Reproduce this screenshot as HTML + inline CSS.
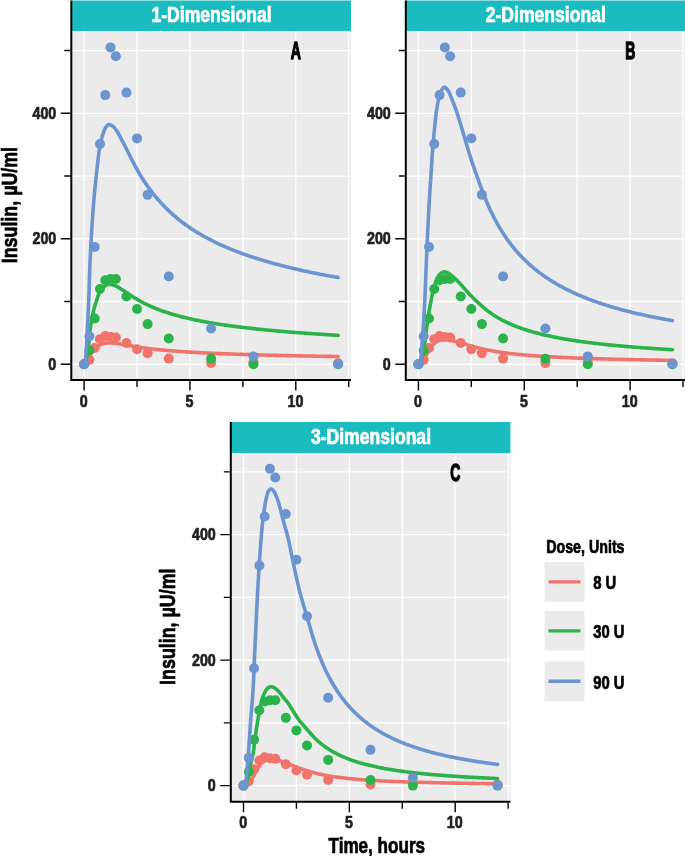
<!DOCTYPE html>
<html><head><meta charset="utf-8"><title>Insulin diffusion models</title>
<style>html,body{margin:0;padding:0;background:#fff}svg{display:block}</style></head>
<body>
<svg width="685" height="856" viewBox="0 0 685 856">
<rect width="685" height="856" fill="#fff"/>
<rect x="71.3" y="31.0" width="279.7" height="349.1" fill="#EBEBEB"/>
<path d="M84.10,31.0V380.1M137.03,31.0V380.1M189.95,31.0V380.1M242.88,31.0V380.1M295.80,31.0V380.1M348.73,31.0V380.1M71.3,364.25H351.0M71.3,301.51H351.0M71.3,238.77H351.0M71.3,176.03H351.0M71.3,113.29H351.0M71.3,50.55H351.0" stroke="#fff" stroke-width="1.3" fill="none"/>
<rect x="71.3" y="0.5" width="279.7" height="30.5" fill="#1BBCBF"/>
<text transform="translate(211.50,22.30) scale(0.826,1)" text-anchor="middle" font-size="21.3" fill="#fff" stroke="#fff" stroke-width="0.7" stroke-linejoin="round" font-family="'Liberation Sans', sans-serif" font-weight="bold">1-Dimensional</text>
<path d="M84.10,364.25 L84.52,364.22 L84.95,364.14 L85.37,363.98 L85.79,363.56 L86.22,363.02 L86.64,362.35 L87.06,361.57 L87.49,360.86 L87.91,360.17 L88.33,359.43 L88.76,358.58 L89.18,357.45 L89.60,356.15 L90.03,355.19 L90.45,354.39 L90.87,353.64 L91.30,352.96 L91.72,352.32 L92.14,351.72 L92.57,351.15 L92.99,350.63 L93.41,350.13 L93.84,349.67 L94.26,349.24 L94.69,348.84 L95.11,348.47 L95.53,348.11 L95.96,347.77 L96.38,347.41 L96.80,347.05 L97.23,346.69 L97.65,346.36 L98.07,346.04 L98.50,345.73 L98.92,345.43 L99.34,345.16 L99.77,344.93 L100.19,344.74 L100.61,344.57 L101.04,344.40 L101.46,344.25 L101.88,344.10 L102.31,343.96 L102.73,343.84 L103.15,343.73 L103.58,343.62 L104.00,343.52 L104.42,343.42 L104.85,343.34 L105.27,343.27 L105.69,343.21 L106.12,343.16 L106.54,343.11 L106.96,343.06 L107.39,343.02 L107.81,342.99 L108.23,342.96 L108.66,342.95 L109.08,342.95 L109.50,342.95 L109.93,342.96 L110.35,342.97 L110.77,342.99 L111.20,343.01 L111.62,343.03 L112.04,343.05 L112.47,343.08 L112.89,343.10 L113.31,343.13 L113.74,343.16 L114.16,343.20 L114.58,343.24 L115.01,343.28 L115.43,343.33 L115.85,343.39 L116.28,343.44 L116.70,343.50 L117.13,343.56 L117.55,343.62 L117.97,343.68 L118.40,343.74 L118.82,343.81 L119.24,343.88 L119.67,343.95 L120.09,344.03 L120.51,344.10 L120.94,344.18 L121.36,344.25 L121.78,344.32 L122.21,344.39 L122.63,344.46 L123.05,344.53 L123.48,344.60 L123.90,344.68 L124.32,344.75 L124.75,344.82 L125.17,344.89 L125.59,344.96 L126.02,345.04 L126.44,345.11 L126.86,345.18 L127.29,345.25 L127.71,345.33 L128.13,345.40 L128.56,345.48 L128.98,345.56 L129.40,345.63 L129.83,345.71 L130.25,345.79 L130.67,345.86 L131.10,345.94 L131.52,346.01 L131.94,346.09 L132.37,346.16 L132.79,346.23 L133.21,346.31 L133.64,346.38 L134.06,346.45 L134.48,346.52 L134.91,346.59 L135.33,346.66 L135.75,346.73 L136.18,346.80 L136.60,346.87 L137.03,346.93 L137.45,347.00 L137.87,347.07 L138.30,347.13 L138.72,347.20 L139.14,347.26 L139.57,347.33 L139.99,347.39 L140.41,347.46 L140.84,347.52 L141.26,347.58 L141.68,347.64 L142.11,347.70 L142.53,347.76 L142.95,347.82 L143.38,347.88 L143.80,347.94 L144.22,347.99 L144.65,348.05 L145.07,348.10 L145.49,348.16 L145.92,348.21 L146.34,348.27 L146.76,348.32 L147.19,348.38 L147.61,348.43 L148.67,348.56 L149.73,348.69 L150.79,348.81 L151.84,348.94 L152.90,349.06 L153.96,349.18 L155.02,349.29 L156.08,349.41 L157.14,349.52 L158.19,349.63 L159.25,349.73 L160.31,349.84 L161.37,349.94 L162.43,350.04 L163.49,350.14 L164.55,350.24 L165.60,350.33 L166.66,350.42 L167.72,350.52 L168.78,350.61 L169.84,350.69 L170.90,350.78 L171.96,350.87 L173.01,350.95 L174.07,351.03 L175.13,351.12 L176.19,351.20 L177.25,351.27 L178.31,351.35 L179.37,351.43 L180.42,351.50 L181.48,351.57 L182.54,351.65 L183.60,351.72 L184.66,351.79 L185.72,351.85 L186.77,351.92 L187.83,351.99 L188.89,352.05 L189.95,352.12 L191.01,352.18 L192.07,352.24 L193.13,352.30 L194.18,352.36 L195.24,352.42 L196.30,352.48 L197.36,352.54 L198.42,352.60 L199.48,352.65 L200.53,352.71 L201.59,352.76 L202.65,352.82 L203.71,352.87 L204.77,352.92 L205.83,352.97 L206.89,353.02 L207.94,353.07 L209.00,353.12 L210.06,353.17 L211.12,353.22 L212.18,353.27 L213.24,353.32 L214.30,353.36 L215.35,353.41 L216.41,353.45 L217.47,353.50 L218.53,353.54 L219.59,353.59 L220.65,353.63 L221.71,353.67 L222.76,353.71 L223.82,353.76 L224.88,353.80 L225.94,353.84 L227.00,353.88 L228.06,353.92 L229.11,353.96 L230.17,353.99 L231.23,354.03 L232.29,354.07 L233.35,354.11 L234.41,354.15 L235.47,354.18 L236.52,354.22 L237.58,354.25 L238.64,354.29 L239.70,354.33 L240.76,354.36 L241.82,354.40 L242.88,354.43 L243.93,354.46 L244.99,354.50 L246.05,354.53 L247.11,354.56 L248.17,354.59 L249.23,354.63 L250.28,354.66 L251.34,354.69 L252.40,354.72 L253.46,354.75 L254.52,354.78 L255.58,354.81 L256.64,354.84 L257.69,354.87 L258.75,354.90 L259.81,354.93 L260.87,354.96 L261.93,354.99 L262.99,355.02 L264.05,355.05 L265.10,355.07 L266.16,355.10 L267.22,355.13 L268.28,355.16 L269.34,355.18 L270.40,355.21 L271.45,355.23 L272.51,355.26 L273.57,355.29 L274.63,355.31 L275.69,355.34 L276.75,355.36 L277.81,355.39 L278.86,355.41 L279.92,355.44 L280.98,355.46 L282.04,355.49 L283.10,355.51 L284.16,355.53 L285.22,355.56 L286.27,355.58 L287.33,355.61 L288.39,355.63 L289.45,355.65 L290.51,355.67 L291.57,355.70 L292.62,355.72 L293.68,355.74 L294.74,355.76 L295.80,355.78 L296.86,355.81 L297.92,355.83 L298.98,355.85 L300.03,355.87 L301.09,355.89 L302.15,355.91 L303.21,355.93 L304.27,355.95 L305.33,355.97 L306.38,355.99 L307.44,356.01 L308.50,356.03 L309.56,356.05 L310.62,356.07 L311.68,356.09 L312.74,356.11 L313.79,356.13 L314.85,356.15 L315.91,356.17 L316.97,356.19 L318.03,356.21 L319.09,356.23 L320.15,356.24 L321.20,356.26 L322.26,356.28 L323.32,356.30 L324.38,356.32 L325.44,356.34 L326.50,356.35 L327.56,356.37 L328.61,356.39 L329.67,356.41 L330.73,356.42 L331.79,356.44 L332.85,356.46 L333.91,356.47 L334.96,356.49 L336.02,356.51 L337.08,356.52 L338.14,356.54" stroke="#F0746C" stroke-width="3.6" fill="none" stroke-linejoin="round" stroke-linecap="round"/>
<circle cx="84.10" cy="364.25" r="5.0" fill="#F0746C"/>
<circle cx="89.39" cy="359.86" r="5.0" fill="#F0746C"/>
<circle cx="94.69" cy="347.94" r="5.0" fill="#F0746C"/>
<circle cx="99.98" cy="339.15" r="5.0" fill="#F0746C"/>
<circle cx="105.27" cy="336.02" r="5.0" fill="#F0746C"/>
<circle cx="110.56" cy="336.90" r="5.0" fill="#F0746C"/>
<circle cx="115.85" cy="337.52" r="5.0" fill="#F0746C"/>
<circle cx="126.44" cy="342.92" r="5.0" fill="#F0746C"/>
<circle cx="137.03" cy="349.19" r="5.0" fill="#F0746C"/>
<circle cx="147.61" cy="353.27" r="5.0" fill="#F0746C"/>
<circle cx="168.78" cy="358.60" r="5.0" fill="#F0746C"/>
<circle cx="211.12" cy="363.12" r="5.0" fill="#F0746C"/>
<circle cx="253.46" cy="362.37" r="5.0" fill="#F0746C"/>
<circle cx="338.14" cy="363.31" r="5.0" fill="#F0746C"/>
<path d="M84.10,364.25 L84.52,364.13 L84.95,363.83 L85.37,363.23 L85.79,361.67 L86.22,359.65 L86.64,357.12 L87.06,354.21 L87.49,351.55 L87.91,348.96 L88.33,346.18 L88.76,343.00 L89.18,338.75 L89.60,333.89 L90.03,330.28 L90.45,327.26 L90.87,324.47 L91.30,321.90 L91.72,319.51 L92.14,317.26 L92.57,315.13 L92.99,313.16 L93.41,311.32 L93.84,309.58 L94.26,307.96 L94.69,306.46 L95.11,305.07 L95.53,303.74 L95.96,302.44 L96.38,301.11 L96.80,299.75 L97.23,298.42 L97.65,297.15 L98.07,295.96 L98.50,294.78 L98.92,293.67 L99.34,292.67 L99.77,291.82 L100.19,291.09 L100.61,290.44 L101.04,289.83 L101.46,289.24 L101.88,288.68 L102.31,288.16 L102.73,287.71 L103.15,287.29 L103.58,286.88 L104.00,286.50 L104.42,286.15 L104.85,285.84 L105.27,285.57 L105.69,285.36 L106.12,285.16 L106.54,284.97 L106.96,284.80 L107.39,284.64 L107.81,284.51 L108.23,284.42 L108.66,284.37 L109.08,284.36 L109.50,284.38 L109.93,284.42 L110.35,284.46 L110.77,284.52 L111.20,284.60 L111.62,284.67 L112.04,284.76 L112.47,284.85 L112.89,284.94 L113.31,285.04 L113.74,285.16 L114.16,285.29 L114.58,285.45 L115.01,285.63 L115.43,285.82 L115.85,286.02 L116.28,286.23 L116.70,286.44 L117.13,286.66 L117.55,286.87 L117.97,287.09 L118.40,287.34 L118.82,287.59 L119.24,287.86 L119.67,288.13 L120.09,288.41 L120.51,288.69 L120.94,288.97 L121.36,289.25 L121.78,289.51 L122.21,289.78 L122.63,290.05 L123.05,290.31 L123.48,290.58 L123.90,290.85 L124.32,291.12 L124.75,291.38 L125.17,291.65 L125.59,291.92 L126.02,292.20 L126.44,292.47 L126.86,292.74 L127.29,293.02 L127.71,293.30 L128.13,293.58 L128.56,293.86 L128.98,294.15 L129.40,294.44 L129.83,294.72 L130.25,295.01 L130.67,295.30 L131.10,295.58 L131.52,295.86 L131.94,296.14 L132.37,296.41 L132.79,296.69 L133.21,296.96 L133.64,297.23 L134.06,297.49 L134.48,297.76 L134.91,298.03 L135.33,298.29 L135.75,298.55 L136.18,298.81 L136.60,299.06 L137.03,299.32 L137.45,299.57 L137.87,299.82 L138.30,300.06 L138.72,300.31 L139.14,300.56 L139.57,300.80 L139.99,301.04 L140.41,301.28 L140.84,301.51 L141.26,301.74 L141.68,301.97 L142.11,302.20 L142.53,302.42 L142.95,302.64 L143.38,302.86 L143.80,303.07 L144.22,303.29 L144.65,303.50 L145.07,303.71 L145.49,303.91 L145.92,304.12 L146.34,304.32 L146.76,304.52 L147.19,304.72 L147.61,304.92 L148.67,305.41 L149.73,305.89 L150.79,306.36 L151.84,306.83 L152.90,307.28 L153.96,307.72 L155.02,308.16 L156.08,308.58 L157.14,309.00 L158.19,309.41 L159.25,309.81 L160.31,310.20 L161.37,310.59 L162.43,310.96 L163.49,311.33 L164.55,311.70 L165.60,312.05 L166.66,312.40 L167.72,312.74 L168.78,313.08 L169.84,313.42 L170.90,313.75 L171.96,314.07 L173.01,314.38 L174.07,314.69 L175.13,315.00 L176.19,315.30 L177.25,315.59 L178.31,315.88 L179.37,316.16 L180.42,316.44 L181.48,316.71 L182.54,316.98 L183.60,317.25 L184.66,317.51 L185.72,317.77 L186.77,318.02 L187.83,318.27 L188.89,318.51 L189.95,318.75 L191.01,318.99 L192.07,319.22 L193.13,319.45 L194.18,319.68 L195.24,319.90 L196.30,320.12 L197.36,320.34 L198.42,320.55 L199.48,320.76 L200.53,320.97 L201.59,321.17 L202.65,321.37 L203.71,321.57 L204.77,321.77 L205.83,321.96 L206.89,322.15 L207.94,322.34 L209.00,322.53 L210.06,322.71 L211.12,322.89 L212.18,323.07 L213.24,323.25 L214.30,323.42 L215.35,323.59 L216.41,323.76 L217.47,323.93 L218.53,324.09 L219.59,324.26 L220.65,324.42 L221.71,324.58 L222.76,324.74 L223.82,324.89 L224.88,325.05 L225.94,325.20 L227.00,325.35 L228.06,325.50 L229.11,325.65 L230.17,325.79 L231.23,325.94 L232.29,326.08 L233.35,326.22 L234.41,326.36 L235.47,326.50 L236.52,326.63 L237.58,326.77 L238.64,326.90 L239.70,327.03 L240.76,327.16 L241.82,327.29 L242.88,327.42 L243.93,327.55 L244.99,327.67 L246.05,327.80 L247.11,327.92 L248.17,328.04 L249.23,328.16 L250.28,328.28 L251.34,328.40 L252.40,328.52 L253.46,328.63 L254.52,328.75 L255.58,328.86 L256.64,328.97 L257.69,329.08 L258.75,329.20 L259.81,329.30 L260.87,329.41 L261.93,329.52 L262.99,329.63 L264.05,329.73 L265.10,329.84 L266.16,329.94 L267.22,330.04 L268.28,330.14 L269.34,330.24 L270.40,330.34 L271.45,330.44 L272.51,330.54 L273.57,330.64 L274.63,330.74 L275.69,330.83 L276.75,330.93 L277.81,331.02 L278.86,331.11 L279.92,331.21 L280.98,331.30 L282.04,331.39 L283.10,331.48 L284.16,331.57 L285.22,331.66 L286.27,331.74 L287.33,331.83 L288.39,331.92 L289.45,332.00 L290.51,332.09 L291.57,332.17 L292.62,332.26 L293.68,332.34 L294.74,332.42 L295.80,332.51 L296.86,332.59 L297.92,332.67 L298.98,332.75 L300.03,332.83 L301.09,332.91 L302.15,332.98 L303.21,333.06 L304.27,333.14 L305.33,333.22 L306.38,333.29 L307.44,333.37 L308.50,333.44 L309.56,333.52 L310.62,333.59 L311.68,333.66 L312.74,333.74 L313.79,333.81 L314.85,333.88 L315.91,333.95 L316.97,334.02 L318.03,334.09 L319.09,334.16 L320.15,334.23 L321.20,334.30 L322.26,334.37 L323.32,334.44 L324.38,334.50 L325.44,334.57 L326.50,334.64 L327.56,334.70 L328.61,334.77 L329.67,334.83 L330.73,334.90 L331.79,334.96 L332.85,335.03 L333.91,335.09 L334.96,335.15 L336.02,335.21 L337.08,335.28 L338.14,335.34" stroke="#2AB34B" stroke-width="3.6" fill="none" stroke-linejoin="round" stroke-linecap="round"/>
<circle cx="84.10" cy="364.25" r="5.0" fill="#2AB34B"/>
<circle cx="89.39" cy="350.45" r="5.0" fill="#2AB34B"/>
<circle cx="94.69" cy="318.45" r="5.0" fill="#2AB34B"/>
<circle cx="99.98" cy="288.96" r="5.0" fill="#2AB34B"/>
<circle cx="105.27" cy="280.18" r="5.0" fill="#2AB34B"/>
<circle cx="110.56" cy="278.92" r="5.0" fill="#2AB34B"/>
<circle cx="115.85" cy="278.92" r="5.0" fill="#2AB34B"/>
<circle cx="126.44" cy="296.49" r="5.0" fill="#2AB34B"/>
<circle cx="137.03" cy="309.04" r="5.0" fill="#2AB34B"/>
<circle cx="147.61" cy="324.10" r="5.0" fill="#2AB34B"/>
<circle cx="168.78" cy="338.53" r="5.0" fill="#2AB34B"/>
<circle cx="211.12" cy="358.73" r="5.0" fill="#2AB34B"/>
<circle cx="253.46" cy="364.25" r="5.0" fill="#2AB34B"/>
<circle cx="338.14" cy="364.25" r="5.0" fill="#2AB34B"/>
<path d="M84.10,364.25 L84.52,363.90 L84.95,362.98 L85.37,361.20 L85.79,356.52 L86.22,350.45 L86.64,342.85 L87.06,334.13 L87.49,326.16 L87.91,318.37 L88.33,310.05 L88.76,300.50 L89.18,287.75 L89.60,273.17 L90.03,262.34 L90.45,253.27 L90.87,244.90 L91.30,237.19 L91.72,230.04 L92.14,223.27 L92.57,216.89 L92.99,210.98 L93.41,205.45 L93.84,200.25 L94.26,195.39 L94.69,190.89 L95.11,186.71 L95.53,182.73 L95.96,178.81 L96.38,174.82 L96.80,170.76 L97.23,166.75 L97.65,162.95 L98.07,159.37 L98.50,155.85 L98.92,152.52 L99.34,149.52 L99.77,146.95 L100.19,144.76 L100.61,142.81 L101.04,140.98 L101.46,139.21 L101.88,137.53 L102.31,135.99 L102.73,134.62 L103.15,133.36 L103.58,132.15 L104.00,131.00 L104.42,129.95 L104.85,129.01 L105.27,128.21 L105.69,127.57 L106.12,126.99 L106.54,126.42 L106.96,125.89 L107.39,125.42 L107.81,125.03 L108.23,124.75 L108.66,124.60 L109.08,124.59 L109.50,124.64 L109.93,124.75 L110.35,124.89 L110.77,125.07 L111.20,125.29 L111.62,125.52 L112.04,125.78 L112.47,126.05 L112.89,126.33 L113.31,126.61 L113.74,126.97 L114.16,127.38 L114.58,127.86 L115.01,128.39 L115.43,128.95 L115.85,129.55 L116.28,130.18 L116.70,130.82 L117.13,131.47 L117.55,132.11 L117.97,132.78 L118.40,133.51 L118.82,134.27 L119.24,135.07 L119.67,135.90 L120.09,136.73 L120.51,137.58 L120.94,138.41 L121.36,139.24 L121.78,140.04 L122.21,140.84 L122.63,141.64 L123.05,142.44 L123.48,143.24 L123.90,144.04 L124.32,144.85 L124.75,145.65 L125.17,146.46 L125.59,147.27 L126.02,148.09 L126.44,148.90 L126.86,149.73 L127.29,150.55 L127.71,151.39 L128.13,152.23 L128.56,153.09 L128.98,153.94 L129.40,154.81 L129.83,155.67 L130.25,156.53 L130.67,157.39 L131.10,158.24 L131.52,159.09 L131.94,159.92 L132.37,160.74 L132.79,161.56 L133.21,162.37 L133.64,163.18 L134.06,163.98 L134.48,164.78 L134.91,165.58 L135.33,166.36 L135.75,167.14 L136.18,167.92 L136.60,168.69 L137.03,169.45 L137.45,170.20 L137.87,170.95 L138.30,171.69 L138.72,172.43 L139.14,173.17 L139.57,173.89 L139.99,174.61 L140.41,175.33 L140.84,176.03 L141.26,176.73 L141.68,177.42 L142.11,178.10 L142.53,178.77 L142.95,179.43 L143.38,180.08 L143.80,180.72 L144.22,181.36 L144.65,181.99 L145.07,182.62 L145.49,183.23 L145.92,183.85 L146.34,184.46 L146.76,185.06 L147.19,185.66 L147.61,186.26 L148.67,187.74 L149.73,189.18 L150.79,190.59 L151.84,191.98 L152.90,193.33 L153.96,194.66 L155.02,195.97 L156.08,197.25 L157.14,198.50 L158.19,199.73 L159.25,200.93 L160.31,202.11 L161.37,203.26 L162.43,204.39 L163.49,205.50 L164.55,206.59 L165.60,207.65 L166.66,208.70 L167.72,209.73 L168.78,210.75 L169.84,211.75 L170.90,212.74 L171.96,213.70 L173.01,214.65 L174.07,215.58 L175.13,216.49 L176.19,217.39 L177.25,218.27 L178.31,219.14 L179.37,219.99 L180.42,220.82 L181.48,221.64 L182.54,222.45 L183.60,223.25 L184.66,224.03 L185.72,224.80 L186.77,225.55 L187.83,226.30 L188.89,227.03 L189.95,227.75 L191.01,228.46 L192.07,229.16 L193.13,229.85 L194.18,230.53 L195.24,231.20 L196.30,231.86 L197.36,232.51 L198.42,233.15 L199.48,233.78 L200.53,234.40 L201.59,235.01 L202.65,235.62 L203.71,236.21 L204.77,236.80 L205.83,237.38 L206.89,237.95 L207.94,238.52 L209.00,239.08 L210.06,239.63 L211.12,240.17 L212.18,240.71 L213.24,241.24 L214.30,241.76 L215.35,242.27 L216.41,242.78 L217.47,243.29 L218.53,243.78 L219.59,244.27 L220.65,244.76 L221.71,245.24 L222.76,245.71 L223.82,246.18 L224.88,246.64 L225.94,247.10 L227.00,247.55 L228.06,248.00 L229.11,248.44 L230.17,248.88 L231.23,249.31 L232.29,249.74 L233.35,250.16 L234.41,250.58 L235.47,250.99 L236.52,251.40 L237.58,251.81 L238.64,252.21 L239.70,252.60 L240.76,252.99 L241.82,253.38 L242.88,253.77 L243.93,254.15 L244.99,254.52 L246.05,254.89 L247.11,255.26 L248.17,255.63 L249.23,255.99 L250.28,256.35 L251.34,256.70 L252.40,257.05 L253.46,257.40 L254.52,257.74 L255.58,258.08 L256.64,258.42 L257.69,258.75 L258.75,259.09 L259.81,259.41 L260.87,259.74 L261.93,260.06 L262.99,260.38 L264.05,260.70 L265.10,261.01 L266.16,261.32 L267.22,261.63 L268.28,261.93 L269.34,262.23 L270.40,262.53 L271.45,262.83 L272.51,263.13 L273.57,263.42 L274.63,263.71 L275.69,263.99 L276.75,264.28 L277.81,264.56 L278.86,264.84 L279.92,265.12 L280.98,265.39 L282.04,265.66 L283.10,265.93 L284.16,266.20 L285.22,266.47 L286.27,266.73 L287.33,266.99 L288.39,267.25 L289.45,267.51 L290.51,267.77 L291.57,268.02 L292.62,268.27 L293.68,268.52 L294.74,268.77 L295.80,269.02 L296.86,269.26 L297.92,269.50 L298.98,269.74 L300.03,269.98 L301.09,270.22 L302.15,270.45 L303.21,270.69 L304.27,270.92 L305.33,271.15 L306.38,271.37 L307.44,271.60 L308.50,271.82 L309.56,272.05 L310.62,272.27 L311.68,272.49 L312.74,272.71 L313.79,272.92 L314.85,273.14 L315.91,273.35 L316.97,273.56 L318.03,273.78 L319.09,273.98 L320.15,274.19 L321.20,274.40 L322.26,274.60 L323.32,274.81 L324.38,275.01 L325.44,275.21 L326.50,275.41 L327.56,275.61 L328.61,275.80 L329.67,276.00 L330.73,276.19 L331.79,276.39 L332.85,276.58 L333.91,276.77 L334.96,276.96 L336.02,277.14 L337.08,277.33 L338.14,277.52" stroke="#6C94CF" stroke-width="3.6" fill="none" stroke-linejoin="round" stroke-linecap="round"/>
<circle cx="84.10" cy="364.25" r="5.0" fill="#6C94CF"/>
<circle cx="89.39" cy="336.33" r="5.0" fill="#6C94CF"/>
<circle cx="94.69" cy="246.93" r="5.0" fill="#6C94CF"/>
<circle cx="99.98" cy="144.03" r="5.0" fill="#6C94CF"/>
<circle cx="105.27" cy="95.10" r="5.0" fill="#6C94CF"/>
<circle cx="110.56" cy="47.41" r="5.0" fill="#6C94CF"/>
<circle cx="115.85" cy="56.20" r="5.0" fill="#6C94CF"/>
<circle cx="126.44" cy="92.59" r="5.0" fill="#6C94CF"/>
<circle cx="137.03" cy="138.39" r="5.0" fill="#6C94CF"/>
<circle cx="147.61" cy="194.85" r="5.0" fill="#6C94CF"/>
<circle cx="168.78" cy="276.41" r="5.0" fill="#6C94CF"/>
<circle cx="211.12" cy="328.49" r="5.0" fill="#6C94CF"/>
<circle cx="253.46" cy="356.41" r="5.0" fill="#6C94CF"/>
<circle cx="338.14" cy="364.06" r="5.0" fill="#6C94CF"/>
<path d="M71.3,0.5V380.1H351.0" stroke="#000" stroke-width="2" fill="none" stroke-linejoin="miter"/>
<path d="M70.3,364.25h-9.5M70.3,301.51h-6M70.3,238.77h-9.5M70.3,176.03h-6M70.3,113.29h-9.5M70.3,50.55h-6M84.10,381.1v9.5M137.03,381.1v6M189.95,381.1v9.5M242.88,381.1v6M295.80,381.1v9.5M348.73,381.1v6" stroke="#000" stroke-width="1.4" fill="none"/>
<text transform="translate(56.30,369.85) scale(0.86,1)" text-anchor="end" font-size="16.6" fill="#231F20" stroke="#231F20" stroke-width="0.7" stroke-linejoin="round" font-family="'Liberation Sans', sans-serif" font-weight="bold">0</text>
<text transform="translate(56.30,244.37) scale(0.86,1)" text-anchor="end" font-size="16.6" fill="#231F20" stroke="#231F20" stroke-width="0.7" stroke-linejoin="round" font-family="'Liberation Sans', sans-serif" font-weight="bold">200</text>
<text transform="translate(56.30,118.89) scale(0.86,1)" text-anchor="end" font-size="16.6" fill="#231F20" stroke="#231F20" stroke-width="0.7" stroke-linejoin="round" font-family="'Liberation Sans', sans-serif" font-weight="bold">400</text>
<text transform="translate(83.70,406.60) scale(0.86,1)" text-anchor="middle" font-size="16.6" fill="#231F20" stroke="#231F20" stroke-width="0.7" stroke-linejoin="round" font-family="'Liberation Sans', sans-serif" font-weight="bold">0</text>
<text transform="translate(189.55,406.60) scale(0.86,1)" text-anchor="middle" font-size="16.6" fill="#231F20" stroke="#231F20" stroke-width="0.7" stroke-linejoin="round" font-family="'Liberation Sans', sans-serif" font-weight="bold">5</text>
<text transform="translate(295.40,406.60) scale(0.86,1)" text-anchor="middle" font-size="16.6" fill="#231F20" stroke="#231F20" stroke-width="0.7" stroke-linejoin="round" font-family="'Liberation Sans', sans-serif" font-weight="bold">10</text>
<text transform="translate(295.70,59.00) scale(0.6,1)" text-anchor="middle" font-size="23.4" fill="#000" stroke="#000" stroke-width="1.4" stroke-linejoin="round" font-family="'Liberation Sans', sans-serif" font-weight="bold">A</text>
<rect x="405.8" y="31.0" width="279.2" height="349.1" fill="#EBEBEB"/>
<path d="M418.40,31.0V380.1M471.32,31.0V380.1M524.25,31.0V380.1M577.17,31.0V380.1M630.10,31.0V380.1M683.02,31.0V380.1M405.8,364.25H685.0M405.8,301.51H685.0M405.8,238.77H685.0M405.8,176.03H685.0M405.8,113.29H685.0M405.8,50.55H685.0" stroke="#fff" stroke-width="1.3" fill="none"/>
<rect x="405.8" y="0.5" width="279.2" height="30.5" fill="#1BBCBF"/>
<text transform="translate(545.75,22.30) scale(0.826,1)" text-anchor="middle" font-size="21.3" fill="#fff" stroke="#fff" stroke-width="0.7" stroke-linejoin="round" font-family="'Liberation Sans', sans-serif" font-weight="bold">2-Dimensional</text>
<path d="M418.40,364.25 L418.82,364.24 L419.25,364.23 L419.67,364.20 L420.09,364.16 L420.52,364.07 L420.94,363.74 L421.36,363.25 L421.79,362.72 L422.21,362.24 L422.63,361.74 L423.06,361.20 L423.48,360.63 L423.90,360.03 L424.33,359.37 L424.75,358.67 L425.17,357.86 L425.60,356.91 L426.02,355.93 L426.44,354.99 L426.87,354.11 L427.29,353.26 L427.71,352.45 L428.14,351.67 L428.56,350.93 L428.98,350.25 L429.41,349.61 L429.83,348.99 L430.26,348.40 L430.68,347.81 L431.10,347.22 L431.53,346.63 L431.95,346.04 L432.37,345.48 L432.80,344.97 L433.22,344.51 L433.64,344.10 L434.07,343.72 L434.49,343.35 L434.91,342.98 L435.34,342.61 L435.76,342.25 L436.18,341.94 L436.61,341.67 L437.03,341.42 L437.45,341.19 L437.88,340.99 L438.30,340.80 L438.72,340.64 L439.15,340.49 L439.57,340.34 L439.99,340.21 L440.42,340.09 L440.84,340.00 L441.26,339.93 L441.69,339.86 L442.11,339.81 L442.53,339.75 L442.96,339.71 L443.38,339.67 L443.80,339.64 L444.23,339.63 L444.65,339.63 L445.07,339.64 L445.50,339.66 L445.92,339.70 L446.34,339.74 L446.77,339.78 L447.19,339.83 L447.61,339.88 L448.04,339.93 L448.46,339.98 L448.88,340.05 L449.31,340.13 L449.73,340.21 L450.15,340.31 L450.58,340.40 L451.00,340.49 L451.43,340.59 L451.85,340.68 L452.27,340.77 L452.70,340.86 L453.12,340.96 L453.54,341.05 L453.97,341.15 L454.39,341.25 L454.81,341.35 L455.24,341.45 L455.66,341.56 L456.08,341.66 L456.51,341.77 L456.93,341.88 L457.35,341.99 L457.78,342.11 L458.20,342.23 L458.62,342.35 L459.05,342.47 L459.47,342.59 L459.89,342.72 L460.32,342.84 L460.74,342.97 L461.16,343.09 L461.59,343.21 L462.01,343.34 L462.43,343.46 L462.86,343.59 L463.28,343.71 L463.70,343.84 L464.13,343.97 L464.55,344.10 L464.97,344.23 L465.40,344.36 L465.82,344.48 L466.24,344.61 L466.67,344.74 L467.09,344.86 L467.51,344.99 L467.94,345.11 L468.36,345.23 L468.78,345.36 L469.21,345.48 L469.63,345.60 L470.05,345.72 L470.48,345.84 L470.90,345.96 L471.32,346.08 L471.75,346.20 L472.17,346.31 L472.60,346.42 L473.02,346.53 L473.44,346.64 L473.87,346.75 L474.29,346.86 L474.71,346.97 L475.14,347.08 L475.56,347.18 L475.98,347.29 L476.41,347.39 L476.83,347.50 L477.25,347.60 L477.68,347.71 L478.10,347.81 L478.52,347.92 L478.95,348.02 L479.37,348.13 L479.79,348.23 L480.22,348.33 L480.64,348.43 L481.06,348.54 L481.49,348.64 L481.91,348.74 L482.97,348.99 L484.03,349.23 L485.09,349.47 L486.14,349.70 L487.20,349.92 L488.26,350.14 L489.32,350.35 L490.38,350.55 L491.44,350.75 L492.50,350.95 L493.55,351.13 L494.61,351.31 L495.67,351.49 L496.73,351.66 L497.79,351.83 L498.85,352.00 L499.90,352.15 L500.96,352.31 L502.02,352.46 L503.08,352.61 L504.14,352.75 L505.20,352.89 L506.26,353.03 L507.31,353.16 L508.37,353.29 L509.43,353.42 L510.49,353.54 L511.55,353.67 L512.61,353.79 L513.66,353.90 L514.72,354.02 L515.78,354.13 L516.84,354.24 L517.90,354.34 L518.96,354.45 L520.02,354.55 L521.07,354.65 L522.13,354.75 L523.19,354.84 L524.25,354.94 L525.31,355.03 L526.37,355.12 L527.43,355.21 L528.48,355.29 L529.54,355.38 L530.60,355.46 L531.66,355.55 L532.72,355.63 L533.78,355.71 L534.84,355.78 L535.89,355.86 L536.95,355.93 L538.01,356.01 L539.07,356.08 L540.13,356.15 L541.19,356.22 L542.24,356.29 L543.30,356.36 L544.36,356.42 L545.42,356.49 L546.48,356.55 L547.54,356.62 L548.60,356.68 L549.65,356.74 L550.71,356.80 L551.77,356.86 L552.83,356.92 L553.89,356.97 L554.95,357.03 L556.00,357.09 L557.06,357.14 L558.12,357.19 L559.18,357.25 L560.24,357.30 L561.30,357.35 L562.36,357.40 L563.41,357.45 L564.47,357.50 L565.53,357.55 L566.59,357.60 L567.65,357.64 L568.71,357.69 L569.77,357.74 L570.82,357.78 L571.88,357.83 L572.94,357.87 L574.00,357.91 L575.06,357.96 L576.12,358.00 L577.17,358.04 L578.23,358.08 L579.29,358.12 L580.35,358.16 L581.41,358.20 L582.47,358.24 L583.53,358.28 L584.58,358.32 L585.64,358.36 L586.70,358.39 L587.76,358.43 L588.82,358.47 L589.88,358.50 L590.94,358.54 L591.99,358.57 L593.05,358.61 L594.11,358.64 L595.17,358.67 L596.23,358.71 L597.29,358.74 L598.35,358.77 L599.40,358.80 L600.46,358.84 L601.52,358.87 L602.58,358.90 L603.64,358.93 L604.70,358.96 L605.75,358.99 L606.81,359.02 L607.87,359.05 L608.93,359.08 L609.99,359.10 L611.05,359.13 L612.11,359.16 L613.16,359.19 L614.22,359.22 L615.28,359.24 L616.34,359.27 L617.40,359.30 L618.46,359.32 L619.51,359.35 L620.57,359.37 L621.63,359.40 L622.69,359.42 L623.75,359.45 L624.81,359.47 L625.87,359.50 L626.92,359.52 L627.98,359.55 L629.04,359.57 L630.10,359.59 L631.16,359.62 L632.22,359.64 L633.28,359.66 L634.33,359.68 L635.39,359.71 L636.45,359.73 L637.51,359.75 L638.57,359.77 L639.63,359.79 L640.68,359.82 L641.74,359.84 L642.80,359.86 L643.86,359.88 L644.92,359.90 L645.98,359.92 L647.04,359.94 L648.09,359.96 L649.15,359.98 L650.21,360.00 L651.27,360.02 L652.33,360.04 L653.39,360.05 L654.45,360.07 L655.50,360.09 L656.56,360.11 L657.62,360.13 L658.68,360.15 L659.74,360.17 L660.80,360.18 L661.86,360.20 L662.91,360.22 L663.97,360.24 L665.03,360.25 L666.09,360.27 L667.15,360.29 L668.21,360.30 L669.26,360.32 L670.32,360.34 L671.38,360.35 L672.44,360.37" stroke="#F0746C" stroke-width="3.6" fill="none" stroke-linejoin="round" stroke-linecap="round"/>
<circle cx="418.40" cy="364.25" r="5.0" fill="#F0746C"/>
<circle cx="423.69" cy="359.86" r="5.0" fill="#F0746C"/>
<circle cx="428.98" cy="347.94" r="5.0" fill="#F0746C"/>
<circle cx="434.28" cy="339.15" r="5.0" fill="#F0746C"/>
<circle cx="439.57" cy="336.02" r="5.0" fill="#F0746C"/>
<circle cx="444.86" cy="336.90" r="5.0" fill="#F0746C"/>
<circle cx="450.15" cy="337.52" r="5.0" fill="#F0746C"/>
<circle cx="460.74" cy="342.92" r="5.0" fill="#F0746C"/>
<circle cx="471.32" cy="349.19" r="5.0" fill="#F0746C"/>
<circle cx="481.91" cy="353.27" r="5.0" fill="#F0746C"/>
<circle cx="503.08" cy="358.60" r="5.0" fill="#F0746C"/>
<circle cx="545.42" cy="363.12" r="5.0" fill="#F0746C"/>
<circle cx="587.76" cy="362.37" r="5.0" fill="#F0746C"/>
<circle cx="672.44" cy="363.31" r="5.0" fill="#F0746C"/>
<path d="M418.40,364.25 L418.82,364.23 L419.25,364.16 L419.67,364.06 L420.09,363.92 L420.52,363.59 L420.94,362.35 L421.36,360.51 L421.79,358.53 L422.21,356.71 L422.63,354.82 L423.06,352.82 L423.48,350.69 L423.90,348.41 L424.33,345.97 L424.75,343.34 L425.17,340.27 L425.60,336.74 L426.02,333.05 L426.44,329.53 L426.87,326.23 L427.29,323.04 L427.71,320.00 L428.14,317.06 L428.56,314.30 L428.98,311.74 L429.41,309.33 L429.83,307.03 L430.26,304.80 L430.68,302.61 L431.10,300.41 L431.53,298.18 L431.95,295.98 L432.37,293.88 L432.80,291.94 L433.22,290.22 L433.64,288.68 L434.07,287.26 L434.49,285.89 L434.91,284.50 L435.34,283.09 L435.76,281.76 L436.18,280.60 L436.61,279.59 L437.03,278.65 L437.45,277.79 L437.88,277.01 L438.30,276.33 L438.72,275.72 L439.15,275.14 L439.57,274.59 L439.99,274.09 L440.42,273.66 L440.84,273.30 L441.26,273.03 L441.69,272.81 L442.11,272.59 L442.53,272.39 L442.96,272.22 L443.38,272.08 L443.80,271.98 L444.23,271.92 L444.65,271.92 L445.07,271.97 L445.50,272.06 L445.92,272.18 L446.34,272.32 L446.77,272.49 L447.19,272.67 L447.61,272.86 L448.04,273.05 L448.46,273.25 L448.88,273.51 L449.31,273.80 L449.73,274.12 L450.15,274.46 L450.58,274.81 L451.00,275.17 L451.43,275.52 L451.85,275.87 L452.27,276.21 L452.70,276.55 L453.12,276.91 L453.54,277.27 L453.97,277.63 L454.39,278.00 L454.81,278.38 L455.24,278.76 L455.66,279.15 L456.08,279.55 L456.51,279.95 L456.93,280.37 L457.35,280.79 L457.78,281.23 L458.20,281.67 L458.62,282.12 L459.05,282.57 L459.47,283.03 L459.89,283.50 L460.32,283.96 L460.74,284.43 L461.16,284.90 L461.59,285.37 L462.01,285.83 L462.43,286.30 L462.86,286.77 L463.28,287.24 L463.70,287.72 L464.13,288.20 L464.55,288.68 L464.97,289.16 L465.40,289.65 L465.82,290.13 L466.24,290.61 L466.67,291.08 L467.09,291.55 L467.51,292.02 L467.94,292.48 L468.36,292.94 L468.78,293.40 L469.21,293.86 L469.63,294.31 L470.05,294.77 L470.48,295.22 L470.90,295.67 L471.32,296.11 L471.75,296.55 L472.17,296.98 L472.60,297.40 L473.02,297.82 L473.44,298.23 L473.87,298.63 L474.29,299.04 L474.71,299.44 L475.14,299.84 L475.56,300.24 L475.98,300.64 L476.41,301.04 L476.83,301.44 L477.25,301.83 L477.68,302.22 L478.10,302.62 L478.52,303.01 L478.95,303.40 L479.37,303.79 L479.79,304.17 L480.22,304.56 L480.64,304.94 L481.06,305.32 L481.49,305.70 L481.91,306.08 L482.97,307.01 L484.03,307.93 L485.09,308.82 L486.14,309.68 L487.20,310.52 L488.26,311.33 L489.32,312.12 L490.38,312.89 L491.44,313.63 L492.50,314.36 L493.55,315.06 L494.61,315.74 L495.67,316.41 L496.73,317.05 L497.79,317.68 L498.85,318.30 L499.90,318.89 L500.96,319.47 L502.02,320.04 L503.08,320.59 L504.14,321.13 L505.20,321.66 L506.26,322.17 L507.31,322.67 L508.37,323.16 L509.43,323.64 L510.49,324.11 L511.55,324.56 L512.61,325.01 L513.66,325.44 L514.72,325.87 L515.78,326.29 L516.84,326.70 L517.90,327.10 L518.96,327.49 L520.02,327.87 L521.07,328.24 L522.13,328.61 L523.19,328.97 L524.25,329.32 L525.31,329.67 L526.37,330.01 L527.43,330.34 L528.48,330.67 L529.54,330.99 L530.60,331.30 L531.66,331.61 L532.72,331.91 L533.78,332.21 L534.84,332.50 L535.89,332.79 L536.95,333.07 L538.01,333.34 L539.07,333.61 L540.13,333.88 L541.19,334.14 L542.24,334.40 L543.30,334.65 L544.36,334.90 L545.42,335.15 L546.48,335.39 L547.54,335.62 L548.60,335.86 L549.65,336.08 L550.71,336.31 L551.77,336.53 L552.83,336.75 L553.89,336.96 L554.95,337.18 L556.00,337.38 L557.06,337.59 L558.12,337.79 L559.18,337.99 L560.24,338.19 L561.30,338.38 L562.36,338.57 L563.41,338.76 L564.47,338.94 L565.53,339.12 L566.59,339.30 L567.65,339.48 L568.71,339.65 L569.77,339.83 L570.82,340.00 L571.88,340.16 L572.94,340.33 L574.00,340.49 L575.06,340.65 L576.12,340.81 L577.17,340.97 L578.23,341.12 L579.29,341.27 L580.35,341.42 L581.41,341.57 L582.47,341.72 L583.53,341.86 L584.58,342.00 L585.64,342.15 L586.70,342.28 L587.76,342.42 L588.82,342.56 L589.88,342.69 L590.94,342.82 L591.99,342.95 L593.05,343.08 L594.11,343.21 L595.17,343.34 L596.23,343.46 L597.29,343.58 L598.35,343.71 L599.40,343.83 L600.46,343.94 L601.52,344.06 L602.58,344.18 L603.64,344.29 L604.70,344.41 L605.75,344.52 L606.81,344.63 L607.87,344.74 L608.93,344.85 L609.99,344.95 L611.05,345.06 L612.11,345.17 L613.16,345.27 L614.22,345.37 L615.28,345.47 L616.34,345.57 L617.40,345.67 L618.46,345.77 L619.51,345.87 L620.57,345.96 L621.63,346.06 L622.69,346.15 L623.75,346.25 L624.81,346.34 L625.87,346.43 L626.92,346.52 L627.98,346.61 L629.04,346.70 L630.10,346.79 L631.16,346.87 L632.22,346.96 L633.28,347.05 L634.33,347.13 L635.39,347.21 L636.45,347.30 L637.51,347.38 L638.57,347.46 L639.63,347.54 L640.68,347.62 L641.74,347.70 L642.80,347.78 L643.86,347.85 L644.92,347.93 L645.98,348.01 L647.04,348.08 L648.09,348.16 L649.15,348.23 L650.21,348.30 L651.27,348.37 L652.33,348.45 L653.39,348.52 L654.45,348.59 L655.50,348.66 L656.56,348.73 L657.62,348.80 L658.68,348.86 L659.74,348.93 L660.80,349.00 L661.86,349.07 L662.91,349.13 L663.97,349.20 L665.03,349.26 L666.09,349.32 L667.15,349.39 L668.21,349.45 L669.26,349.51 L670.32,349.58 L671.38,349.64 L672.44,349.70" stroke="#2AB34B" stroke-width="3.6" fill="none" stroke-linejoin="round" stroke-linecap="round"/>
<circle cx="418.40" cy="364.25" r="5.0" fill="#2AB34B"/>
<circle cx="423.69" cy="350.45" r="5.0" fill="#2AB34B"/>
<circle cx="428.98" cy="318.45" r="5.0" fill="#2AB34B"/>
<circle cx="434.28" cy="288.96" r="5.0" fill="#2AB34B"/>
<circle cx="439.57" cy="280.18" r="5.0" fill="#2AB34B"/>
<circle cx="444.86" cy="278.92" r="5.0" fill="#2AB34B"/>
<circle cx="450.15" cy="278.92" r="5.0" fill="#2AB34B"/>
<circle cx="460.74" cy="296.49" r="5.0" fill="#2AB34B"/>
<circle cx="471.32" cy="309.04" r="5.0" fill="#2AB34B"/>
<circle cx="481.91" cy="324.10" r="5.0" fill="#2AB34B"/>
<circle cx="503.08" cy="338.53" r="5.0" fill="#2AB34B"/>
<circle cx="545.42" cy="358.73" r="5.0" fill="#2AB34B"/>
<circle cx="587.76" cy="364.25" r="5.0" fill="#2AB34B"/>
<circle cx="672.44" cy="364.25" r="5.0" fill="#2AB34B"/>
<path d="M418.40,364.25 L418.82,364.18 L419.25,363.99 L419.67,363.68 L420.09,363.25 L420.52,362.26 L420.94,358.56 L421.36,353.03 L421.79,347.09 L422.21,341.63 L422.63,335.96 L423.06,329.96 L423.48,323.57 L423.90,316.73 L424.33,309.40 L424.75,301.51 L425.17,292.31 L425.60,281.71 L426.02,270.65 L426.44,260.10 L426.87,250.19 L427.29,240.62 L427.71,231.49 L428.14,222.68 L428.56,214.39 L428.98,206.73 L429.41,199.50 L429.83,192.60 L430.26,185.91 L430.68,179.32 L431.10,172.72 L431.53,166.03 L431.95,159.44 L432.37,153.14 L432.80,147.32 L433.22,142.17 L433.64,137.55 L434.07,133.28 L434.49,129.16 L434.91,125.00 L435.34,120.78 L435.76,116.78 L436.18,113.29 L436.61,110.26 L437.03,107.44 L437.45,104.86 L437.88,102.53 L438.30,100.49 L438.72,98.66 L439.15,96.91 L439.57,95.26 L439.99,93.77 L440.42,92.47 L440.84,91.40 L441.26,90.60 L441.69,89.92 L442.11,89.27 L442.53,88.68 L442.96,88.16 L443.38,87.74 L443.80,87.44 L444.23,87.27 L444.65,87.27 L445.07,87.41 L445.50,87.67 L445.92,88.03 L446.34,88.46 L446.77,88.96 L447.19,89.51 L447.61,90.07 L448.04,90.64 L448.46,91.26 L448.88,92.02 L449.31,92.89 L449.73,93.85 L450.15,94.87 L450.58,95.93 L451.00,97.00 L451.43,98.07 L451.85,99.10 L452.27,100.12 L452.70,101.16 L453.12,102.22 L453.54,103.30 L453.97,104.39 L454.39,105.50 L454.81,106.63 L455.24,107.78 L455.66,108.95 L456.08,110.14 L456.51,111.35 L456.93,112.60 L457.35,113.87 L457.78,115.18 L458.20,116.50 L458.62,117.85 L459.05,119.22 L459.47,120.60 L459.89,121.99 L460.32,123.39 L460.74,124.80 L461.16,126.20 L461.59,127.61 L462.01,129.00 L462.43,130.40 L462.86,131.81 L463.28,133.23 L463.70,134.66 L464.13,136.10 L464.55,137.54 L464.97,138.99 L465.40,140.44 L465.82,141.88 L466.24,143.32 L466.67,144.74 L467.09,146.15 L467.51,147.55 L467.94,148.94 L468.36,150.32 L468.78,151.70 L469.21,153.07 L469.63,154.44 L470.05,155.80 L470.48,157.15 L470.90,158.50 L471.32,159.83 L471.75,161.15 L472.17,162.44 L472.60,163.70 L473.02,164.95 L473.44,166.18 L473.87,167.40 L474.29,168.62 L474.71,169.83 L475.14,171.03 L475.56,172.23 L475.98,173.43 L476.41,174.62 L476.83,175.81 L477.25,176.99 L477.68,178.17 L478.10,179.35 L478.52,180.52 L478.95,181.69 L479.37,182.86 L479.79,184.02 L480.22,185.17 L480.64,186.32 L481.06,187.47 L481.49,188.61 L481.91,189.74 L482.97,192.54 L484.03,195.28 L485.09,197.95 L486.14,200.54 L487.20,203.06 L488.26,205.50 L489.32,207.87 L490.38,210.17 L491.44,212.40 L492.50,214.57 L493.55,216.68 L494.61,218.73 L495.67,220.72 L496.73,222.66 L497.79,224.55 L498.85,226.39 L499.90,228.18 L500.96,229.92 L502.02,231.62 L503.08,233.28 L504.14,234.90 L505.20,236.47 L506.26,238.01 L507.31,239.52 L508.37,240.98 L509.43,242.42 L510.49,243.82 L511.55,245.19 L512.61,246.52 L513.66,247.83 L514.72,249.11 L515.78,250.36 L516.84,251.59 L517.90,252.79 L518.96,253.96 L520.02,255.11 L521.07,256.23 L522.13,257.34 L523.19,258.42 L524.25,259.47 L525.31,260.51 L526.37,261.53 L527.43,262.53 L528.48,263.50 L529.54,264.46 L530.60,265.40 L531.66,266.33 L532.72,267.24 L533.78,268.13 L534.84,269.00 L535.89,269.86 L536.95,270.70 L538.01,271.53 L539.07,272.34 L540.13,273.14 L541.19,273.93 L542.24,274.70 L543.30,275.46 L544.36,276.20 L545.42,276.94 L546.48,277.66 L547.54,278.37 L548.60,279.07 L549.65,279.75 L550.71,280.43 L551.77,281.09 L552.83,281.75 L553.89,282.39 L554.95,283.03 L556.00,283.65 L557.06,284.27 L558.12,284.87 L559.18,285.47 L560.24,286.06 L561.30,286.64 L562.36,287.21 L563.41,287.77 L564.47,288.33 L565.53,288.87 L566.59,289.41 L567.65,289.94 L568.71,290.46 L569.77,290.98 L570.82,291.49 L571.88,291.99 L572.94,292.49 L574.00,292.97 L575.06,293.46 L576.12,293.93 L577.17,294.40 L578.23,294.86 L579.29,295.32 L580.35,295.77 L581.41,296.21 L582.47,296.65 L583.53,297.09 L584.58,297.51 L585.64,297.94 L586.70,298.35 L587.76,298.77 L588.82,299.17 L589.88,299.57 L590.94,299.97 L591.99,300.36 L593.05,300.75 L594.11,301.13 L595.17,301.51 L596.23,301.88 L597.29,302.25 L598.35,302.62 L599.40,302.98 L600.46,303.33 L601.52,303.69 L602.58,304.03 L603.64,304.38 L604.70,304.72 L605.75,305.05 L606.81,305.39 L607.87,305.72 L608.93,306.04 L609.99,306.36 L611.05,306.68 L612.11,307.00 L613.16,307.31 L614.22,307.61 L615.28,307.92 L616.34,308.22 L617.40,308.52 L618.46,308.81 L619.51,309.10 L620.57,309.39 L621.63,309.68 L622.69,309.96 L623.75,310.24 L624.81,310.52 L625.87,310.79 L626.92,311.06 L627.98,311.33 L629.04,311.60 L630.10,311.86 L631.16,312.12 L632.22,312.38 L633.28,312.64 L634.33,312.89 L635.39,313.14 L636.45,313.39 L637.51,313.63 L638.57,313.88 L639.63,314.12 L640.68,314.36 L641.74,314.59 L642.80,314.83 L643.86,315.06 L644.92,315.29 L645.98,315.52 L647.04,315.74 L648.09,315.97 L649.15,316.19 L650.21,316.41 L651.27,316.62 L652.33,316.84 L653.39,317.05 L654.45,317.27 L655.50,317.48 L656.56,317.68 L657.62,317.89 L658.68,318.09 L659.74,318.30 L660.80,318.50 L661.86,318.70 L662.91,318.89 L663.97,319.09 L665.03,319.28 L666.09,319.47 L667.15,319.66 L668.21,319.85 L669.26,320.04 L670.32,320.23 L671.38,320.41 L672.44,320.59" stroke="#6C94CF" stroke-width="3.6" fill="none" stroke-linejoin="round" stroke-linecap="round"/>
<circle cx="418.40" cy="364.25" r="5.0" fill="#6C94CF"/>
<circle cx="423.69" cy="336.33" r="5.0" fill="#6C94CF"/>
<circle cx="428.98" cy="246.93" r="5.0" fill="#6C94CF"/>
<circle cx="434.28" cy="144.03" r="5.0" fill="#6C94CF"/>
<circle cx="439.57" cy="95.10" r="5.0" fill="#6C94CF"/>
<circle cx="444.86" cy="47.41" r="5.0" fill="#6C94CF"/>
<circle cx="450.15" cy="56.20" r="5.0" fill="#6C94CF"/>
<circle cx="460.74" cy="92.59" r="5.0" fill="#6C94CF"/>
<circle cx="471.32" cy="138.39" r="5.0" fill="#6C94CF"/>
<circle cx="481.91" cy="194.85" r="5.0" fill="#6C94CF"/>
<circle cx="503.08" cy="276.41" r="5.0" fill="#6C94CF"/>
<circle cx="545.42" cy="328.49" r="5.0" fill="#6C94CF"/>
<circle cx="587.76" cy="356.41" r="5.0" fill="#6C94CF"/>
<circle cx="672.44" cy="364.06" r="5.0" fill="#6C94CF"/>
<path d="M405.8,0.5V380.1H685.0" stroke="#000" stroke-width="2" fill="none" stroke-linejoin="miter"/>
<path d="M404.8,364.25h-9.5M404.8,301.51h-6M404.8,238.77h-9.5M404.8,176.03h-6M404.8,113.29h-9.5M404.8,50.55h-6M418.40,381.1v9.5M471.32,381.1v6M524.25,381.1v9.5M577.17,381.1v6M630.10,381.1v9.5M683.02,381.1v6" stroke="#000" stroke-width="1.4" fill="none"/>
<text transform="translate(390.80,369.85) scale(0.86,1)" text-anchor="end" font-size="16.6" fill="#231F20" stroke="#231F20" stroke-width="0.7" stroke-linejoin="round" font-family="'Liberation Sans', sans-serif" font-weight="bold">0</text>
<text transform="translate(390.80,244.37) scale(0.86,1)" text-anchor="end" font-size="16.6" fill="#231F20" stroke="#231F20" stroke-width="0.7" stroke-linejoin="round" font-family="'Liberation Sans', sans-serif" font-weight="bold">200</text>
<text transform="translate(390.80,118.89) scale(0.86,1)" text-anchor="end" font-size="16.6" fill="#231F20" stroke="#231F20" stroke-width="0.7" stroke-linejoin="round" font-family="'Liberation Sans', sans-serif" font-weight="bold">400</text>
<text transform="translate(418.00,406.60) scale(0.86,1)" text-anchor="middle" font-size="16.6" fill="#231F20" stroke="#231F20" stroke-width="0.7" stroke-linejoin="round" font-family="'Liberation Sans', sans-serif" font-weight="bold">0</text>
<text transform="translate(523.85,406.60) scale(0.86,1)" text-anchor="middle" font-size="16.6" fill="#231F20" stroke="#231F20" stroke-width="0.7" stroke-linejoin="round" font-family="'Liberation Sans', sans-serif" font-weight="bold">5</text>
<text transform="translate(629.70,406.60) scale(0.86,1)" text-anchor="middle" font-size="16.6" fill="#231F20" stroke="#231F20" stroke-width="0.7" stroke-linejoin="round" font-family="'Liberation Sans', sans-serif" font-weight="bold">10</text>
<text transform="translate(630.20,59.00) scale(0.6,1)" text-anchor="middle" font-size="23.4" fill="#000" stroke="#000" stroke-width="1.4" stroke-linejoin="round" font-family="'Liberation Sans', sans-serif" font-weight="bold">B</text>
<rect x="230.8" y="453.0" width="279.59999999999997" height="348.70000000000005" fill="#EBEBEB"/>
<path d="M243.50,453.0V801.7M296.43,453.0V801.7M349.35,453.0V801.7M402.27,453.0V801.7M455.20,453.0V801.7M508.12,453.0V801.7M230.8,785.60H510.4M230.8,722.86H510.4M230.8,660.12H510.4M230.8,597.38H510.4M230.8,534.64H510.4M230.8,471.90H510.4" stroke="#fff" stroke-width="1.3" fill="none"/>
<rect x="230.8" y="422.0" width="279.59999999999997" height="31.0" fill="#1BBCBF"/>
<text transform="translate(370.95,444.30) scale(0.826,1)" text-anchor="middle" font-size="21.3" fill="#fff" stroke="#fff" stroke-width="0.7" stroke-linejoin="round" font-family="'Liberation Sans', sans-serif" font-weight="bold">3-Dimensional</text>
<path d="M243.50,785.60 L243.92,785.59 L244.35,785.57 L244.77,785.54 L245.19,785.49 L245.62,785.32 L246.04,785.03 L246.46,784.72 L246.89,784.37 L247.31,783.97 L247.73,783.54 L248.16,783.09 L248.58,782.59 L249.00,782.04 L249.43,781.46 L249.85,780.87 L250.27,780.30 L250.70,779.76 L251.12,779.28 L251.54,778.83 L251.97,778.39 L252.39,777.92 L252.81,777.40 L253.24,776.81 L253.66,776.11 L254.09,775.07 L254.51,774.10 L254.93,773.29 L255.36,772.53 L255.78,771.75 L256.20,770.94 L256.63,770.13 L257.05,769.35 L257.47,768.62 L257.90,767.94 L258.32,767.29 L258.74,766.67 L259.17,766.08 L259.59,765.51 L260.01,764.96 L260.44,764.43 L260.86,763.92 L261.28,763.45 L261.71,763.01 L262.13,762.59 L262.55,762.22 L262.98,761.89 L263.40,761.59 L263.82,761.32 L264.25,761.07 L264.67,760.83 L265.09,760.61 L265.52,760.39 L265.94,760.19 L266.36,760.02 L266.79,759.87 L267.21,759.73 L267.63,759.60 L268.06,759.49 L268.48,759.41 L268.90,759.37 L269.33,759.33 L269.75,759.30 L270.17,759.27 L270.60,759.25 L271.02,759.24 L271.44,759.25 L271.87,759.26 L272.29,759.29 L272.71,759.32 L273.14,759.37 L273.56,759.41 L273.98,759.46 L274.41,759.51 L274.83,759.58 L275.25,759.66 L275.68,759.74 L276.10,759.84 L276.53,759.93 L276.95,760.03 L277.37,760.13 L277.80,760.24 L278.22,760.36 L278.64,760.48 L279.07,760.61 L279.49,760.74 L279.91,760.87 L280.34,761.01 L280.76,761.14 L281.18,761.29 L281.61,761.44 L282.03,761.59 L282.45,761.75 L282.88,761.90 L283.30,762.05 L283.72,762.20 L284.15,762.34 L284.57,762.48 L284.99,762.61 L285.42,762.73 L285.84,762.85 L286.26,762.98 L286.69,763.11 L287.11,763.24 L287.53,763.38 L287.96,763.54 L288.38,763.70 L288.80,763.87 L289.23,764.04 L289.65,764.23 L290.07,764.41 L290.50,764.59 L290.92,764.78 L291.34,764.97 L291.77,765.15 L292.19,765.33 L292.61,765.51 L293.04,765.69 L293.46,765.86 L293.88,766.04 L294.31,766.22 L294.73,766.40 L295.15,766.58 L295.58,766.76 L296.00,766.93 L296.43,767.11 L296.85,767.28 L297.27,767.44 L297.70,767.61 L298.12,767.77 L298.54,767.94 L298.97,768.09 L299.39,768.25 L299.81,768.39 L300.24,768.53 L300.66,768.67 L301.08,768.80 L301.51,768.94 L301.93,769.07 L302.35,769.20 L302.78,769.33 L303.20,769.46 L303.62,769.59 L304.05,769.72 L304.47,769.85 L304.89,769.98 L305.32,770.11 L305.74,770.24 L306.16,770.36 L306.59,770.49 L307.01,770.62 L308.07,770.94 L309.13,771.27 L310.19,771.59 L311.24,771.91 L312.30,772.23 L313.36,772.53 L314.42,772.82 L315.48,773.10 L316.54,773.37 L317.60,773.63 L318.65,773.89 L319.71,774.13 L320.77,774.36 L321.83,774.59 L322.89,774.81 L323.95,775.02 L325.00,775.23 L326.06,775.43 L327.12,775.62 L328.18,775.81 L329.24,775.99 L330.30,776.16 L331.36,776.33 L332.41,776.50 L333.47,776.66 L334.53,776.81 L335.59,776.96 L336.65,777.11 L337.71,777.25 L338.76,777.39 L339.82,777.53 L340.88,777.66 L341.94,777.79 L343.00,777.91 L344.06,778.03 L345.12,778.15 L346.17,778.26 L347.23,778.38 L348.29,778.49 L349.35,778.59 L350.41,778.70 L351.47,778.80 L352.53,778.90 L353.58,778.99 L354.64,779.09 L355.70,779.18 L356.76,779.27 L357.82,779.36 L358.88,779.44 L359.94,779.53 L360.99,779.61 L362.05,779.69 L363.11,779.77 L364.17,779.84 L365.23,779.92 L366.29,779.99 L367.34,780.06 L368.40,780.13 L369.46,780.20 L370.52,780.27 L371.58,780.33 L372.64,780.40 L373.70,780.46 L374.75,780.52 L375.81,780.59 L376.87,780.64 L377.93,780.70 L378.99,780.76 L380.05,780.82 L381.11,780.87 L382.16,780.93 L383.22,780.98 L384.28,781.03 L385.34,781.08 L386.40,781.13 L387.46,781.18 L388.51,781.23 L389.57,781.28 L390.63,781.32 L391.69,781.37 L392.75,781.41 L393.81,781.46 L394.87,781.50 L395.92,781.54 L396.98,781.59 L398.04,781.63 L399.10,781.67 L400.16,781.71 L401.22,781.75 L402.27,781.79 L403.33,781.82 L404.39,781.86 L405.45,781.90 L406.51,781.93 L407.57,781.97 L408.63,782.00 L409.68,782.04 L410.74,782.07 L411.80,782.10 L412.86,782.14 L413.92,782.17 L414.98,782.20 L416.04,782.23 L417.09,782.26 L418.15,782.29 L419.21,782.32 L420.27,782.35 L421.33,782.38 L422.39,782.41 L423.45,782.44 L424.50,782.47 L425.56,782.49 L426.62,782.52 L427.68,782.55 L428.74,782.57 L429.80,782.60 L430.85,782.62 L431.91,782.65 L432.97,782.67 L434.03,782.70 L435.09,782.72 L436.15,782.75 L437.21,782.77 L438.26,782.79 L439.32,782.81 L440.38,782.84 L441.44,782.86 L442.50,782.88 L443.56,782.90 L444.62,782.92 L445.67,782.95 L446.73,782.97 L447.79,782.99 L448.85,783.01 L449.91,783.03 L450.97,783.05 L452.02,783.07 L453.08,783.08 L454.14,783.10 L455.20,783.12 L456.26,783.14 L457.32,783.16 L458.38,783.18 L459.43,783.19 L460.49,783.21 L461.55,783.23 L462.61,783.25 L463.67,783.26 L464.73,783.28 L465.79,783.30 L466.84,783.31 L467.90,783.33 L468.96,783.35 L470.02,783.36 L471.08,783.38 L472.14,783.39 L473.19,783.41 L474.25,783.42 L475.31,783.44 L476.37,783.45 L477.43,783.47 L478.49,783.48 L479.55,783.50 L480.60,783.51 L481.66,783.52 L482.72,783.54 L483.78,783.55 L484.84,783.56 L485.90,783.58 L486.96,783.59 L488.01,783.60 L489.07,783.62 L490.13,783.63 L491.19,783.64 L492.25,783.65 L493.31,783.67 L494.36,783.68 L495.42,783.69 L496.48,783.70 L497.54,783.72" stroke="#F0746C" stroke-width="3.6" fill="none" stroke-linejoin="round" stroke-linecap="round"/>
<circle cx="243.50" cy="785.60" r="5.0" fill="#F0746C"/>
<circle cx="248.79" cy="781.21" r="5.0" fill="#F0746C"/>
<circle cx="254.09" cy="769.29" r="5.0" fill="#F0746C"/>
<circle cx="259.38" cy="760.50" r="5.0" fill="#F0746C"/>
<circle cx="264.67" cy="757.37" r="5.0" fill="#F0746C"/>
<circle cx="269.96" cy="758.25" r="5.0" fill="#F0746C"/>
<circle cx="275.25" cy="758.87" r="5.0" fill="#F0746C"/>
<circle cx="285.84" cy="764.27" r="5.0" fill="#F0746C"/>
<circle cx="296.43" cy="770.54" r="5.0" fill="#F0746C"/>
<circle cx="307.01" cy="774.62" r="5.0" fill="#F0746C"/>
<circle cx="328.18" cy="779.95" r="5.0" fill="#F0746C"/>
<circle cx="370.52" cy="784.47" r="5.0" fill="#F0746C"/>
<circle cx="412.86" cy="783.72" r="5.0" fill="#F0746C"/>
<circle cx="497.54" cy="784.66" r="5.0" fill="#F0746C"/>
<path d="M243.50,785.60 L243.92,785.57 L244.35,785.49 L244.77,785.36 L245.19,785.18 L245.62,784.57 L246.04,783.46 L246.46,782.30 L246.89,780.98 L247.31,779.50 L247.73,777.89 L248.16,776.19 L248.58,774.33 L249.00,772.26 L249.43,770.08 L249.85,767.87 L250.27,765.72 L250.70,763.71 L251.12,761.91 L251.54,760.22 L251.97,758.55 L252.39,756.80 L252.81,754.87 L253.24,752.65 L253.66,750.02 L254.09,746.10 L254.51,742.46 L254.93,739.44 L255.36,736.60 L255.78,733.68 L256.20,730.63 L256.63,727.58 L257.05,724.65 L257.47,721.94 L257.90,719.38 L258.32,716.94 L258.74,714.62 L259.17,712.40 L259.59,710.27 L260.01,708.20 L260.44,706.21 L260.86,704.31 L261.28,702.54 L261.71,700.88 L262.13,699.33 L262.55,697.92 L262.98,696.69 L263.40,695.57 L263.82,694.55 L264.25,693.61 L264.67,692.73 L265.09,691.88 L265.52,691.07 L265.94,690.33 L266.36,689.68 L266.79,689.13 L267.21,688.60 L267.63,688.11 L268.06,687.70 L268.48,687.40 L268.90,687.23 L269.33,687.09 L269.75,686.97 L270.17,686.87 L270.60,686.80 L271.02,686.77 L271.44,686.77 L271.87,686.83 L272.29,686.93 L272.71,687.06 L273.14,687.22 L273.56,687.39 L273.98,687.56 L274.41,687.77 L274.83,688.02 L275.25,688.31 L275.68,688.64 L276.10,688.99 L276.53,689.35 L276.95,689.73 L277.37,690.10 L277.80,690.50 L278.22,690.93 L278.64,691.39 L279.07,691.87 L279.49,692.36 L279.91,692.87 L280.34,693.37 L280.76,693.89 L281.18,694.44 L281.61,695.00 L282.03,695.58 L282.45,696.16 L282.88,696.73 L283.30,697.30 L283.72,697.86 L284.15,698.39 L284.57,698.90 L284.99,699.38 L285.42,699.84 L285.84,700.30 L286.26,700.77 L286.69,701.25 L287.11,701.75 L287.53,702.29 L287.96,702.87 L288.38,703.47 L288.80,704.11 L289.23,704.77 L289.65,705.44 L290.07,706.13 L290.50,706.83 L290.92,707.53 L291.34,708.22 L291.77,708.91 L292.19,709.59 L292.61,710.25 L293.04,710.92 L293.46,711.59 L293.88,712.27 L294.31,712.94 L294.73,713.61 L295.15,714.28 L295.58,714.95 L296.00,715.60 L296.43,716.25 L296.85,716.89 L297.27,717.52 L297.70,718.14 L298.12,718.75 L298.54,719.36 L298.97,719.95 L299.39,720.52 L299.81,721.06 L300.24,721.59 L300.66,722.11 L301.08,722.61 L301.51,723.11 L301.93,723.60 L302.35,724.09 L302.78,724.58 L303.20,725.07 L303.62,725.55 L304.05,726.04 L304.47,726.53 L304.89,727.01 L305.32,727.50 L305.74,727.98 L306.16,728.47 L306.59,728.95 L307.01,729.43 L308.07,730.63 L309.13,731.85 L310.19,733.06 L311.24,734.27 L312.30,735.45 L313.36,736.59 L314.42,737.68 L315.48,738.73 L316.54,739.75 L317.60,740.73 L318.65,741.67 L319.71,742.58 L320.77,743.46 L321.83,744.31 L322.89,745.14 L323.95,745.93 L325.00,746.70 L326.06,747.45 L327.12,748.17 L328.18,748.87 L329.24,749.55 L330.30,750.21 L331.36,750.84 L332.41,751.46 L333.47,752.06 L334.53,752.65 L335.59,753.21 L336.65,753.76 L337.71,754.30 L338.76,754.82 L339.82,755.33 L340.88,755.82 L341.94,756.30 L343.00,756.76 L344.06,757.22 L345.12,757.66 L346.17,758.09 L347.23,758.51 L348.29,758.92 L349.35,759.32 L350.41,759.71 L351.47,760.09 L352.53,760.46 L353.58,760.82 L354.64,761.17 L355.70,761.52 L356.76,761.86 L357.82,762.18 L358.88,762.51 L359.94,762.82 L360.99,763.13 L362.05,763.43 L363.11,763.72 L364.17,764.01 L365.23,764.29 L366.29,764.56 L367.34,764.83 L368.40,765.10 L369.46,765.35 L370.52,765.61 L371.58,765.85 L372.64,766.10 L373.70,766.33 L374.75,766.57 L375.81,766.79 L376.87,767.02 L377.93,767.24 L378.99,767.45 L380.05,767.66 L381.11,767.87 L382.16,768.07 L383.22,768.27 L384.28,768.47 L385.34,768.66 L386.40,768.85 L387.46,769.03 L388.51,769.21 L389.57,769.39 L390.63,769.56 L391.69,769.73 L392.75,769.90 L393.81,770.07 L394.87,770.23 L395.92,770.39 L396.98,770.55 L398.04,770.70 L399.10,770.85 L400.16,771.00 L401.22,771.15 L402.27,771.29 L403.33,771.44 L404.39,771.58 L405.45,771.71 L406.51,771.85 L407.57,771.98 L408.63,772.11 L409.68,772.24 L410.74,772.37 L411.80,772.49 L412.86,772.61 L413.92,772.74 L414.98,772.85 L416.04,772.97 L417.09,773.09 L418.15,773.20 L419.21,773.31 L420.27,773.42 L421.33,773.53 L422.39,773.64 L423.45,773.74 L424.50,773.85 L425.56,773.95 L426.62,774.05 L427.68,774.15 L428.74,774.25 L429.80,774.34 L430.85,774.44 L431.91,774.53 L432.97,774.63 L434.03,774.72 L435.09,774.81 L436.15,774.90 L437.21,774.98 L438.26,775.07 L439.32,775.16 L440.38,775.24 L441.44,775.32 L442.50,775.40 L443.56,775.49 L444.62,775.57 L445.67,775.64 L446.73,775.72 L447.79,775.80 L448.85,775.87 L449.91,775.95 L450.97,776.02 L452.02,776.10 L453.08,776.17 L454.14,776.24 L455.20,776.31 L456.26,776.38 L457.32,776.45 L458.38,776.51 L459.43,776.58 L460.49,776.65 L461.55,776.71 L462.61,776.78 L463.67,776.84 L464.73,776.90 L465.79,776.96 L466.84,777.03 L467.90,777.09 L468.96,777.15 L470.02,777.20 L471.08,777.26 L472.14,777.32 L473.19,777.38 L474.25,777.43 L475.31,777.49 L476.37,777.55 L477.43,777.60 L478.49,777.65 L479.55,777.71 L480.60,777.76 L481.66,777.81 L482.72,777.86 L483.78,777.92 L484.84,777.97 L485.90,778.02 L486.96,778.07 L488.01,778.11 L489.07,778.16 L490.13,778.21 L491.19,778.26 L492.25,778.30 L493.31,778.35 L494.36,778.40 L495.42,778.44 L496.48,778.49 L497.54,778.53" stroke="#2AB34B" stroke-width="3.6" fill="none" stroke-linejoin="round" stroke-linecap="round"/>
<circle cx="243.50" cy="785.60" r="5.0" fill="#2AB34B"/>
<circle cx="248.79" cy="771.80" r="5.0" fill="#2AB34B"/>
<circle cx="254.09" cy="739.80" r="5.0" fill="#2AB34B"/>
<circle cx="259.38" cy="710.31" r="5.0" fill="#2AB34B"/>
<circle cx="264.67" cy="701.53" r="5.0" fill="#2AB34B"/>
<circle cx="269.96" cy="700.27" r="5.0" fill="#2AB34B"/>
<circle cx="275.25" cy="700.27" r="5.0" fill="#2AB34B"/>
<circle cx="285.84" cy="717.84" r="5.0" fill="#2AB34B"/>
<circle cx="296.43" cy="730.39" r="5.0" fill="#2AB34B"/>
<circle cx="307.01" cy="745.45" r="5.0" fill="#2AB34B"/>
<circle cx="328.18" cy="759.88" r="5.0" fill="#2AB34B"/>
<circle cx="370.52" cy="780.08" r="5.0" fill="#2AB34B"/>
<circle cx="412.86" cy="785.60" r="5.0" fill="#2AB34B"/>
<circle cx="497.54" cy="785.60" r="5.0" fill="#2AB34B"/>
<path d="M243.50,785.60 L243.92,785.52 L244.35,785.27 L244.77,784.88 L245.19,784.35 L245.62,782.50 L246.04,779.18 L246.46,775.69 L246.89,771.74 L247.31,767.29 L247.73,762.46 L248.16,757.37 L248.58,751.79 L249.00,745.59 L249.43,739.05 L249.85,732.41 L250.27,725.95 L250.70,719.93 L251.12,714.53 L251.54,709.47 L251.97,704.46 L252.39,699.21 L252.81,693.40 L253.24,686.75 L253.66,678.86 L254.09,667.09 L254.51,656.18 L254.93,647.13 L255.36,638.59 L255.78,629.83 L256.20,620.69 L256.63,611.54 L257.05,602.75 L257.47,594.61 L257.90,586.94 L258.32,579.63 L258.74,572.66 L259.17,566.01 L259.59,559.60 L260.01,553.39 L260.44,547.42 L260.86,541.74 L261.28,536.42 L261.71,531.44 L262.13,526.78 L262.55,522.56 L262.98,518.86 L263.40,515.52 L263.82,512.45 L264.25,509.63 L264.67,506.98 L265.09,504.43 L265.52,502.01 L265.94,499.79 L266.36,497.85 L266.79,496.19 L267.21,494.60 L267.63,493.14 L268.06,491.91 L268.48,491.01 L268.90,490.50 L269.33,490.07 L269.75,489.71 L270.17,489.41 L270.60,489.21 L271.02,489.10 L271.44,489.12 L271.87,489.30 L272.29,489.60 L272.71,489.99 L273.14,490.46 L273.56,490.96 L273.98,491.48 L274.41,492.10 L274.83,492.86 L275.25,493.74 L275.68,494.71 L276.10,495.76 L276.53,496.85 L276.95,497.98 L277.37,499.11 L277.80,500.31 L278.22,501.60 L278.64,502.98 L279.07,504.41 L279.49,505.89 L279.91,507.40 L280.34,508.92 L280.76,510.48 L281.18,512.11 L281.61,513.80 L282.03,515.53 L282.45,517.27 L282.88,519.00 L283.30,520.71 L283.72,522.38 L284.15,523.97 L284.57,525.49 L284.99,526.93 L285.42,528.33 L285.84,529.71 L286.26,531.11 L286.69,532.55 L287.11,534.06 L287.53,535.68 L287.96,537.40 L288.38,539.22 L288.80,541.13 L289.23,543.11 L289.65,545.13 L290.07,547.20 L290.50,549.28 L290.92,551.38 L291.34,553.47 L291.77,555.53 L292.19,557.56 L292.61,559.55 L293.04,561.56 L293.46,563.58 L293.88,565.60 L294.31,567.62 L294.73,569.64 L295.15,571.65 L295.58,573.64 L296.00,575.61 L296.43,577.55 L296.85,579.47 L297.27,581.35 L297.70,583.21 L298.12,585.06 L298.54,586.89 L298.97,588.66 L299.39,590.36 L299.81,591.99 L300.24,593.58 L300.66,595.12 L301.08,596.63 L301.51,598.13 L301.93,599.60 L302.35,601.07 L302.78,602.53 L303.20,604.00 L303.62,605.46 L304.05,606.93 L304.47,608.39 L304.89,609.84 L305.32,611.30 L305.74,612.75 L306.16,614.20 L306.59,615.64 L307.01,617.09 L308.07,620.70 L309.13,624.34 L310.19,627.98 L311.24,631.61 L312.30,635.15 L313.36,638.56 L314.42,641.83 L315.48,644.99 L316.54,648.04 L317.60,650.98 L318.65,653.81 L319.71,656.55 L320.77,659.19 L321.83,661.74 L322.89,664.21 L323.95,666.60 L325.00,668.91 L326.06,671.15 L327.12,673.31 L328.18,675.41 L329.24,677.45 L330.30,679.42 L331.36,681.33 L332.41,683.19 L333.47,684.99 L334.53,686.74 L335.59,688.44 L336.65,690.09 L337.71,691.70 L338.76,693.26 L339.82,694.78 L340.88,696.25 L341.94,697.69 L343.00,699.09 L344.06,700.45 L345.12,701.78 L346.17,703.07 L347.23,704.33 L348.29,705.56 L349.35,706.76 L350.41,707.92 L351.47,709.06 L352.53,710.18 L353.58,711.26 L354.64,712.32 L355.70,713.36 L356.76,714.37 L357.82,715.35 L358.88,716.32 L359.94,717.26 L360.99,718.18 L362.05,719.08 L363.11,719.96 L364.17,720.82 L365.23,721.67 L366.29,722.49 L367.34,723.30 L368.40,724.09 L369.46,724.86 L370.52,725.62 L371.58,726.36 L372.64,727.09 L373.70,727.80 L374.75,728.50 L375.81,729.18 L376.87,729.85 L377.93,730.51 L378.99,731.16 L380.05,731.79 L381.11,732.41 L382.16,733.02 L383.22,733.61 L384.28,734.20 L385.34,734.77 L386.40,735.34 L387.46,735.89 L388.51,736.43 L389.57,736.97 L390.63,737.49 L391.69,738.00 L392.75,738.51 L393.81,739.01 L394.87,739.49 L395.92,739.97 L396.98,740.44 L398.04,740.91 L399.10,741.36 L400.16,741.81 L401.22,742.25 L402.27,742.68 L403.33,743.11 L404.39,743.53 L405.45,743.94 L406.51,744.34 L407.57,744.74 L408.63,745.14 L409.68,745.52 L410.74,745.90 L411.80,746.27 L412.86,746.64 L413.92,747.01 L414.98,747.36 L416.04,747.71 L417.09,748.06 L418.15,748.40 L419.21,748.74 L420.27,749.07 L421.33,749.39 L422.39,749.71 L423.45,750.03 L424.50,750.34 L425.56,750.65 L426.62,750.95 L427.68,751.25 L428.74,751.54 L429.80,751.83 L430.85,752.12 L431.91,752.40 L432.97,752.68 L434.03,752.95 L435.09,753.22 L436.15,753.49 L437.21,753.75 L438.26,754.01 L439.32,754.27 L440.38,754.52 L441.44,754.77 L442.50,755.01 L443.56,755.26 L444.62,755.50 L445.67,755.73 L446.73,755.96 L447.79,756.19 L448.85,756.42 L449.91,756.65 L450.97,756.87 L452.02,757.09 L453.08,757.30 L454.14,757.51 L455.20,757.72 L456.26,757.93 L457.32,758.14 L458.38,758.34 L459.43,758.54 L460.49,758.74 L461.55,758.93 L462.61,759.13 L463.67,759.32 L464.73,759.51 L465.79,759.69 L466.84,759.88 L467.90,760.06 L468.96,760.24 L470.02,760.41 L471.08,760.59 L472.14,760.76 L473.19,760.94 L474.25,761.10 L475.31,761.27 L476.37,761.44 L477.43,761.60 L478.49,761.76 L479.55,761.92 L480.60,762.08 L481.66,762.24 L482.72,762.39 L483.78,762.55 L484.84,762.70 L485.90,762.85 L486.96,763.00 L488.01,763.14 L489.07,763.29 L490.13,763.43 L491.19,763.57 L492.25,763.71 L493.31,763.85 L494.36,763.99 L495.42,764.13 L496.48,764.26 L497.54,764.39" stroke="#6C94CF" stroke-width="3.6" fill="none" stroke-linejoin="round" stroke-linecap="round"/>
<circle cx="243.50" cy="785.60" r="5.0" fill="#6C94CF"/>
<circle cx="248.79" cy="757.68" r="5.0" fill="#6C94CF"/>
<circle cx="254.09" cy="668.28" r="5.0" fill="#6C94CF"/>
<circle cx="259.38" cy="565.38" r="5.0" fill="#6C94CF"/>
<circle cx="264.67" cy="516.45" r="5.0" fill="#6C94CF"/>
<circle cx="269.96" cy="468.76" r="5.0" fill="#6C94CF"/>
<circle cx="275.25" cy="477.55" r="5.0" fill="#6C94CF"/>
<circle cx="285.84" cy="513.94" r="5.0" fill="#6C94CF"/>
<circle cx="296.43" cy="559.74" r="5.0" fill="#6C94CF"/>
<circle cx="307.01" cy="616.20" r="5.0" fill="#6C94CF"/>
<circle cx="328.18" cy="697.76" r="5.0" fill="#6C94CF"/>
<circle cx="370.52" cy="749.84" r="5.0" fill="#6C94CF"/>
<circle cx="412.86" cy="777.76" r="5.0" fill="#6C94CF"/>
<circle cx="497.54" cy="785.41" r="5.0" fill="#6C94CF"/>
<path d="M230.8,422.0V801.7H510.4" stroke="#000" stroke-width="2" fill="none" stroke-linejoin="miter"/>
<path d="M229.8,785.60h-9.5M229.8,722.86h-6M229.8,660.12h-9.5M229.8,597.38h-6M229.8,534.64h-9.5M229.8,471.90h-6M243.50,802.7v9.5M296.43,802.7v6M349.35,802.7v9.5M402.27,802.7v6M455.20,802.7v9.5M508.12,802.7v6" stroke="#000" stroke-width="1.4" fill="none"/>
<text transform="translate(215.80,791.20) scale(0.86,1)" text-anchor="end" font-size="16.6" fill="#231F20" stroke="#231F20" stroke-width="0.7" stroke-linejoin="round" font-family="'Liberation Sans', sans-serif" font-weight="bold">0</text>
<text transform="translate(215.80,665.72) scale(0.86,1)" text-anchor="end" font-size="16.6" fill="#231F20" stroke="#231F20" stroke-width="0.7" stroke-linejoin="round" font-family="'Liberation Sans', sans-serif" font-weight="bold">200</text>
<text transform="translate(215.80,540.24) scale(0.86,1)" text-anchor="end" font-size="16.6" fill="#231F20" stroke="#231F20" stroke-width="0.7" stroke-linejoin="round" font-family="'Liberation Sans', sans-serif" font-weight="bold">400</text>
<text transform="translate(243.10,828.20) scale(0.86,1)" text-anchor="middle" font-size="16.6" fill="#231F20" stroke="#231F20" stroke-width="0.7" stroke-linejoin="round" font-family="'Liberation Sans', sans-serif" font-weight="bold">0</text>
<text transform="translate(348.95,828.20) scale(0.86,1)" text-anchor="middle" font-size="16.6" fill="#231F20" stroke="#231F20" stroke-width="0.7" stroke-linejoin="round" font-family="'Liberation Sans', sans-serif" font-weight="bold">5</text>
<text transform="translate(454.80,828.20) scale(0.86,1)" text-anchor="middle" font-size="16.6" fill="#231F20" stroke="#231F20" stroke-width="0.7" stroke-linejoin="round" font-family="'Liberation Sans', sans-serif" font-weight="bold">10</text>
<text transform="translate(455.20,481.00) scale(0.6,1)" text-anchor="middle" font-size="23.4" fill="#000" stroke="#000" stroke-width="1.4" stroke-linejoin="round" font-family="'Liberation Sans', sans-serif" font-weight="bold">C</text>
<text transform="translate(16.90,205.10) rotate(-90) scale(0.812,1)" text-anchor="middle" font-size="22" fill="#000" stroke="#000" stroke-width="0.7" stroke-linejoin="round" font-family="'Liberation Sans', sans-serif" font-weight="bold">Insulin, µU/ml</text>
<text transform="translate(175.40,626.70) rotate(-90) scale(0.812,1)" text-anchor="middle" font-size="22" fill="#000" stroke="#000" stroke-width="0.7" stroke-linejoin="round" font-family="'Liberation Sans', sans-serif" font-weight="bold">Insulin, µU/ml</text>
<text transform="translate(376.80,852.60) scale(0.778,1)" text-anchor="middle" font-size="22" fill="#000" stroke="#000" stroke-width="0.7" stroke-linejoin="round" font-family="'Liberation Sans', sans-serif" font-weight="bold">Time, hours</text>
<text transform="translate(546.20,552.60) scale(0.792,1)" text-anchor="start" font-size="18" fill="#000" stroke="#000" stroke-width="0.7" stroke-linejoin="round" font-family="'Liberation Sans', sans-serif" font-weight="bold">Dose, Units</text>
<rect x="544.5" y="562" width="40" height="39.8" fill="#EBEBEB"/>
<path d="M548.5,581.9H580.5" stroke="#F0746C" stroke-width="3.4"/>
<text transform="translate(593.20,589.20) scale(0.84,1)" text-anchor="start" font-size="17.6" fill="#000" stroke="#000" stroke-width="0.7" stroke-linejoin="round" font-family="'Liberation Sans', sans-serif" font-weight="bold">8 U</text>
<rect x="544.5" y="611" width="40" height="39.8" fill="#EBEBEB"/>
<path d="M548.5,630.9H580.5" stroke="#2AB34B" stroke-width="3.4"/>
<text transform="translate(593.20,638.20) scale(0.84,1)" text-anchor="start" font-size="17.6" fill="#000" stroke="#000" stroke-width="0.7" stroke-linejoin="round" font-family="'Liberation Sans', sans-serif" font-weight="bold">30 U</text>
<rect x="544.5" y="661.4" width="40" height="39.8" fill="#EBEBEB"/>
<path d="M548.5,681.3H580.5" stroke="#6C94CF" stroke-width="3.4"/>
<text transform="translate(593.20,688.60) scale(0.84,1)" text-anchor="start" font-size="17.6" fill="#000" stroke="#000" stroke-width="0.7" stroke-linejoin="round" font-family="'Liberation Sans', sans-serif" font-weight="bold">90 U</text>
</svg>
</body></html>
